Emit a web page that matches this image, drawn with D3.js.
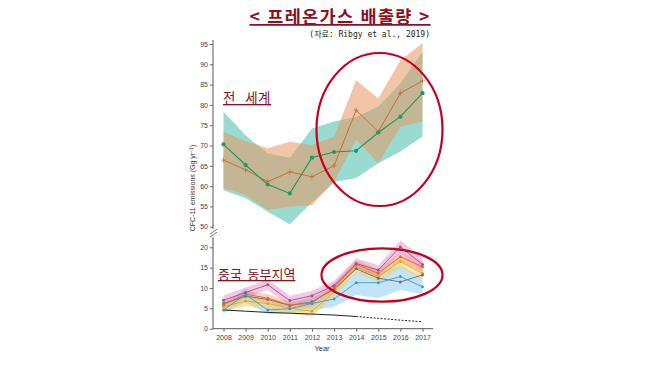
<!DOCTYPE html>
<html lang="ko">
<head>
<meta charset="UTF-8">
<title>프레온가스 배출량</title>
<script src="https://d3js.org/d3.v7.min.js"></script>
<style>
  body { margin: 0; background: #fff; }
  svg { display: block; font-family: "Liberation Sans", Arial, sans-serif; }
  .tick text { fill: #444; font-size: 7px; }
  .tick line { stroke: #666; }
</style>
</head>
<body>
<script>
// ---- data ----
const years = [2008, 2009, 2010, 2011, 2012, 2013, 2014, 2015, 2016, 2017];

// global (top panel)
const globalGreen   = [70.3, 65.2, 60.4, 58.2, 67.0, 68.4, 68.7, 73.2, 77.1, 82.9];
const globalGreenLo = [59.0, 57.0, 53.7, 50.6, 56.0, 61.0, 62.0, 65.6, 68.5, 72.2];
const globalGreenHi = [78.3, 72.5, 68.0, 67.0, 74.2, 75.9, 77.0, 79.6, 85.3, 93.1];
const globalOrange   = [66.4, 64.0, 61.1, 63.5, 62.3, 65.0, 78.7, 73.4, 82.9, 85.9];
const globalOrangeLo = [59.5, 57.8, 54.1, 54.9, 55.3, 61.0, 71.4, 65.6, 74.6, 75.9];
const globalOrangeHi = [73.4, 71.0, 69.3, 70.9, 70.1, 72.2, 86.1, 81.6, 91.0, 95.2];

// eastern China (bottom panel)
const chinaPurple = [7.0, 8.9, 10.8, 6.9, 8.1, 10.6, 16.0, 14.4, 20.1, 15.8];
const chinaPurpleErr = [1.2, 1.2, 1.3, 1.2, 1.2, 1.2, 1.3, 1.2, 1.5, 1.8];
const chinaOrange = [5.9, 8.5, 7.5, 5.8, 6.3, 10.2, 15.8, 13.6, 17.7, 15.2];
const chinaOrangeErr = [0.9, 0.9, 1.0, 0.9, 1.0, 1.0, 1.0, 1.0, 1.2, 1.3];
const chinaYellow = [5.4, 6.8, 6.2, 5.0, 4.3, 9.0, 15.2, 12.8, 16.5, 13.6];
const chinaYellowErr = [1.2, 1.3, 1.4, 1.3, 1.3, 1.3, 1.4, 1.4, 1.5, 1.6];
const chinaGray = [6.2, 8.0, 7.2, 5.7, 6.6, 9.7, 14.7, 12.4, 11.5, 13.2];
const chinaBlue = [4.6, 8.4, 4.6, 4.9, 6.2, 7.3, 11.3, 11.3, 12.8, 10.3];
const chinaBlueLo = [3.8, 6.5, 3.6, 3.8, 4.5, 5.4, 8.3, 7.5, 9.5, 8.5];
const chinaBlueHi = [5.6, 10.0, 6.5, 6.2, 8.0, 9.0, 14.0, 14.0, 15.5, 12.5];
const chinaBlack = [4.6, 4.3, 4.0, 3.8, 3.6, 3.35, 3.0, 2.55, 2.1, 1.7];
const blackDashFrom = 2014;

const topTicks = [50, 55, 60, 65, 70, 75, 80, 85, 90, 95];
const botTicks = [0, 5, 10, 15, 20];

const W = 658, H = 369;
const svg = d3.select("body").append("svg").attr("width", W).attr("height", H);

// scales
const x = d3.scaleLinear().domain([2008, 2017]).range([223.5, 422.5]);
const yTop = d3.scaleLinear().domain([50, 95]).range([226.7, 44]);
const yBot = d3.scaleLinear().domain([0, 20]).range([328.7, 247.3]);
const axisX = 213;

function band(g, y, lo, hi, fill) {
  const area = d3.area().x((d, i) => x(years[i])).y0((d, i) => y(lo[i])).y1((d, i) => y(hi[i]));
  g.append("path").datum(years).attr("d", area).attr("fill", fill);
}
function line(g, y, vals, color, width) {
  const ln = d3.line().x((d, i) => x(years[i])).y(d => y(d));
  return g.append("path").datum(vals).attr("d", ln).attr("fill", "none")
    .attr("stroke", color).attr("stroke-width", width || 1);
}
function dots(g, y, vals, color, r) {
  g.selectAll(null).data(vals).join("circle")
    .attr("cx", (d, i) => x(years[i])).attr("cy", d => y(d)).attr("r", r).attr("fill", color);
}

// ---- top panel ----
const gt = svg.append("g");
band(gt, yTop, globalGreenLo, globalGreenHi, "rgba(70,190,170,0.55)");
band(gt, yTop, globalOrangeLo, globalOrangeHi, "rgba(232,150,100,0.55)");
line(gt, yTop, globalOrange, "#c8702c", 1);
gt.selectAll(null).data(globalOrange).join("path")
  .attr("d", (d, i) => {
    const cx = x(years[i]), cy = yTop(d);
    return `M${cx - 2.5},${cy}H${cx + 2.5}M${cx},${cy - 2.5}V${cy + 2.5}`;
  })
  .attr("stroke", "#c8702c").attr("stroke-width", 0.8);
line(gt, yTop, globalGreen, "#23935f", 1.1);
dots(gt, yTop, globalGreen, "#1f9a63", 2.1);

// ---- bottom panel ----
const gb = svg.append("g");
band(gb, yBot, chinaBlueLo, chinaBlueHi, "rgba(120,195,240,0.45)");
band(gb, yBot, chinaYellow.map((v, i) => v - chinaYellowErr[i]), chinaYellow.map((v, i) => v + chinaYellowErr[i]), "rgba(246,205,90,0.5)");
band(gb, yBot, chinaOrange.map((v, i) => v - chinaOrangeErr[i]), chinaOrange.map((v, i) => v + chinaOrangeErr[i]), "rgba(245,160,110,0.45)");
band(gb, yBot, chinaPurple.map((v, i) => v - chinaPurpleErr[i]), chinaPurple.map((v, i) => v + chinaPurpleErr[i]), "rgba(225,135,195,0.45)");

const solidIdx = years.indexOf(blackDashFrom);
line(gb, yBot, chinaBlack.slice(0, solidIdx + 1), "#222", 1);
gb.append("path").datum(chinaBlack.slice(solidIdx))
  .attr("d", d3.line().x((d, i) => x(years[i + solidIdx])).y(d => yBot(d)))
  .attr("fill", "none").attr("stroke", "#222").attr("stroke-width", 1).attr("stroke-dasharray", "2,1.5");

const botSeries = [
  [chinaYellow, "#e2a81e"],
  [chinaGray, "#7d6a6a"],
  [chinaOrange, "#e2683a"],
  [chinaBlue, "#3a9fd0"],
  [chinaPurple, "#a0509a"]
];
botSeries.forEach(([vals, c]) => { line(gb, yBot, vals, c, 0.9); dots(gb, yBot, vals, c, 1.5); });

// ---- axes ----
const ax = svg.append("g");
ax.append("g").attr("transform", `translate(${axisX},0)`)
  .call(d3.axisLeft(yTop).tickValues(topTicks).tickSize(3).tickPadding(2))
  .call(g => g.select(".domain").remove());
ax.append("g").attr("transform", `translate(${axisX},0)`)
  .call(d3.axisLeft(yBot).tickValues(botTicks).tickSize(3).tickPadding(2))
  .call(g => g.select(".domain").remove());
ax.append("line").attr("x1", axisX).attr("x2", axisX).attr("y1", yTop(96)).attr("y2", yTop(49.4)).attr("stroke", "#555");
ax.append("line").attr("x1", axisX).attr("x2", axisX).attr("y1", yBot(22.5)).attr("y2", yBot(0)).attr("stroke", "#555");
// axis break marks
[0, 3].forEach(o => ax.append("line")
  .attr("x1", axisX - 3).attr("y1", yTop(49.4) + 5 + o)
  .attr("x2", axisX + 4).attr("y2", yTop(49.4) + o)
  .attr("stroke", "#555").attr("stroke-width", 0.8));

ax.append("g").attr("transform", `translate(0,${yBot(0)})`)
  .call(d3.axisBottom(x).tickValues(years).tickFormat(d3.format("d")).tickSize(3).tickPadding(3))
  .call(g => g.select(".domain").remove());
ax.append("line").attr("x1", axisX).attr("x2", 433).attr("y1", yBot(0)).attr("y2", yBot(0)).attr("stroke", "#555");

svg.append("text").attr("x", 322).attr("y", 351).attr("text-anchor", "middle")
  .attr("font-size", 7.5).attr("fill", "#333").text("Year");

const yl = svg.append("text").attr("transform", "translate(195,188) rotate(-90)")
  .attr("text-anchor", "middle").attr("font-size", 7).attr("fill", "#333");
yl.append("tspan").text("CFC-11 emissions (Gg yr");
yl.append("tspan").attr("dy", -2.5).attr("font-size", 5).text("−1");
yl.append("tspan").attr("dy", 2.5).text(")");

// ---- annotations ----
const red = "#c4001c", darkRed = "#8c1020";
svg.append("ellipse").attr("cx", 379.5).attr("cy", 129.5).attr("rx", 63).attr("ry", 76.5)
  .attr("fill", "none").attr("stroke", red).attr("stroke-width", 2.2);
svg.append("ellipse").attr("cx", 382).attr("cy", 275).attr("rx", 60.5).attr("ry", 26.7)
  .attr("fill", "none").attr("stroke", red).attr("stroke-width", 2.2);

const kfont = "'Noto Sans CJK KR', sans-serif";
svg.append("text").attr("x", 340).attr("y", 23).attr("text-anchor", "middle")
  .attr("font-family", kfont).attr("font-weight", "bold").attr("font-size", 17.5)
  .attr("letter-spacing", 1.3)
  .attr("fill", darkRed).attr("text-decoration", "underline").text("< 프레온가스 배출량 >");
svg.append("text").attr("x", 430).attr("y", 37).attr("text-anchor", "end")
  .attr("font-family", "'DejaVu Sans Mono', 'Noto Sans CJK KR', monospace").attr("font-size", 8).attr("fill", "#222")
  .text("(자료: Ribgy et al., 2019)");
svg.append("text").attr("x", 223).attr("y", 103).attr("font-family", kfont)
  .attr("font-size", 13.5).attr("word-spacing", 5).attr("letter-spacing", 0.5)
  .attr("fill", darkRed).attr("text-decoration", "underline").text("전 세계");
svg.append("text").attr("x", 218).attr("y", 279).attr("font-family", kfont)
  .attr("font-size", 13).attr("word-spacing", 2)
  .attr("fill", darkRed).attr("text-decoration", "underline").text("중국 동부지역");
</script>
</body>
</html>
